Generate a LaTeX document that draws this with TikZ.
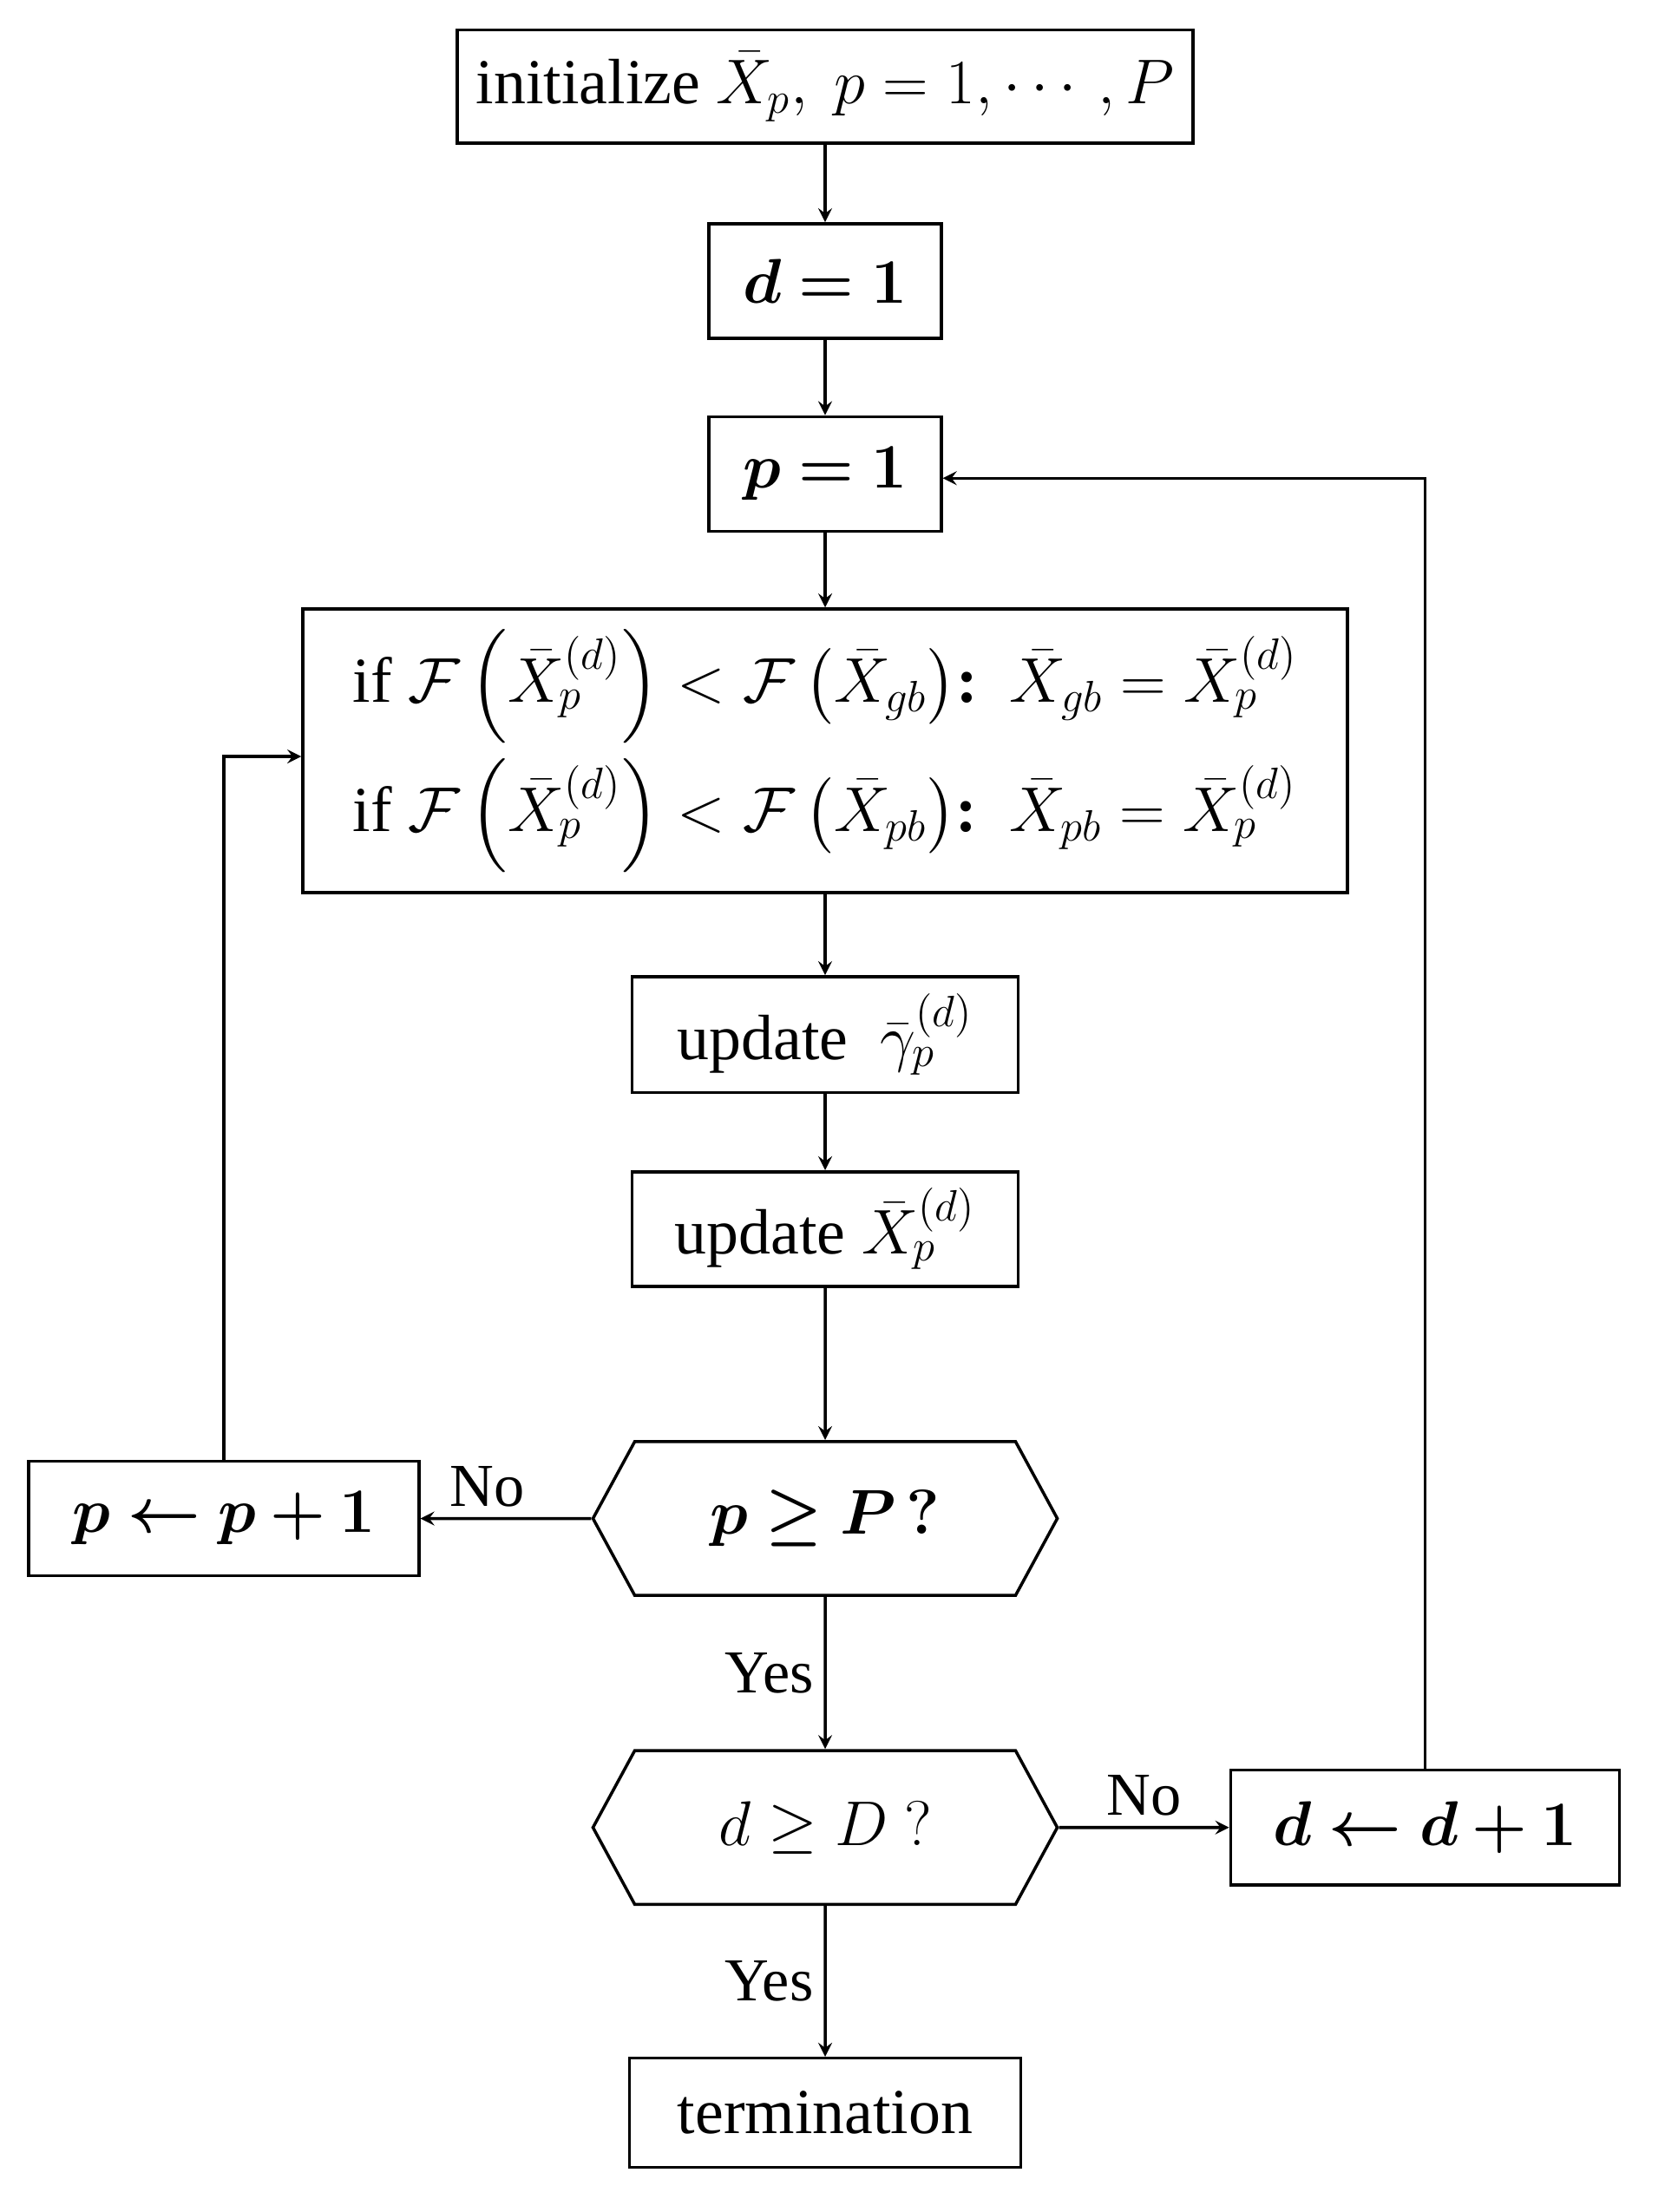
\documentclass[tikz,border=0pt]{standalone}
\usepackage{amsmath,bm}
\usepackage{fontspec}
\setmainfont{Liberation Serif}
\usetikzlibrary{shapes.symbols, arrows}
\newcommand{\pxu}{0.01612cm}
\tikzset{
  box/.style={rectangle, draw=black, line width=1pt, inner sep=0pt, font=\fontsize{21}{26}\selectfont},
  cond/.style={signal, signal to=east and west, signal pointer angle=123, draw=black, line width=1pt, inner sep=0pt, minimum width=332*\pxu, minimum height=110*\pxu, font=\fontsize{21}{26}\selectfont},
  arrow/.style={line width=1pt,->,>=stealth},
  lbl/.style={font=\fontsize{20}{24}\selectfont}
}
\begin{document}
\begin{tikzpicture}[x=\pxu, y=-\pxu]
\useasboundingbox (0,0) rectangle (1190,1582);
\node (init) [box, minimum width=526*\pxu, minimum height=81*\pxu] at (590,62) {initialize $\bar{X}_p,\ p=1,\cdots,P$};
\node (d1) [box, minimum width=166*\pxu, minimum height=82*\pxu] at (590,201) {$\bm{d=1}$};
\node (p1) [box, minimum width=166*\pxu, minimum height=82*\pxu] at (590,339) {$\bm{p=1}$};
\node (best) [box, minimum width=747*\pxu, minimum height=203*\pxu, align=left] at (590,537)
  {if $\mathcal{F}\left(\bar{X}_p^{(d)}\right)<\mathcal{F}\left(\bar{X}_{gb}\right)$\textbf{:}\ \ $\bar{X}_{gb}=\bar{X}_p^{(d)}$\\[4pt]
   if $\mathcal{F}\left(\bar{X}_p^{(d)}\right)<\mathcal{F}\left(\bar{X}_{pb}\right)$\textbf{:}\ \ $\bar{X}_{pb}=\bar{X}_p^{(d)}$};
\node (updg) [box, minimum width=276*\pxu, minimum height=83*\pxu] at (590,740) {update \ $\bar{\gamma}_p^{(d)}$};
\node (updx) [box, minimum width=276*\pxu, minimum height=82*\pxu] at (590,879) {update $\bar{X}_p^{(d)}$};
\node (chkp) [cond] at (590,1086) {$\bm{p\geq P\,?}$};
\node (incp) [box, minimum width=279*\pxu, minimum height=82*\pxu] at (160,1086) {$\bm{p\leftarrow p+1}$};
\node (chkd) [cond] at (590,1307) {$d\geq D\ ?$};
\node (incd) [box, minimum width=278*\pxu, minimum height=82*\pxu] at (1019,1307) {$\bm{d\leftarrow d+1}$};
\node (term) [box, minimum width=280*\pxu, minimum height=78*\pxu] at (590,1511) {termination};

\draw [arrow] (init) -- (d1);
\draw [arrow] (d1) -- (p1);
\draw [arrow] (p1) -- (best);
\draw [arrow] (best) -- (updg);
\draw [arrow] (updg) -- (updx);
\draw [arrow] (updx) -- (chkp);
\draw [arrow] (chkp) -- node[lbl, above, xshift=-6pt] {No} (incp);
\draw [arrow] (chkp) -- node[lbl, left, pos=0.5] {Yes} (chkd);
\draw [arrow] (chkd) -- node[lbl, above] {No} (incd);
\draw [arrow] (chkd) -- node[lbl, left, pos=0.5] {Yes} (term);
\draw [arrow] (incp.north) |- (best.west |- 0,541);
\draw [arrow] (incd.north) |- (p1.east |- 0,342);
\end{tikzpicture}
\end{document}
